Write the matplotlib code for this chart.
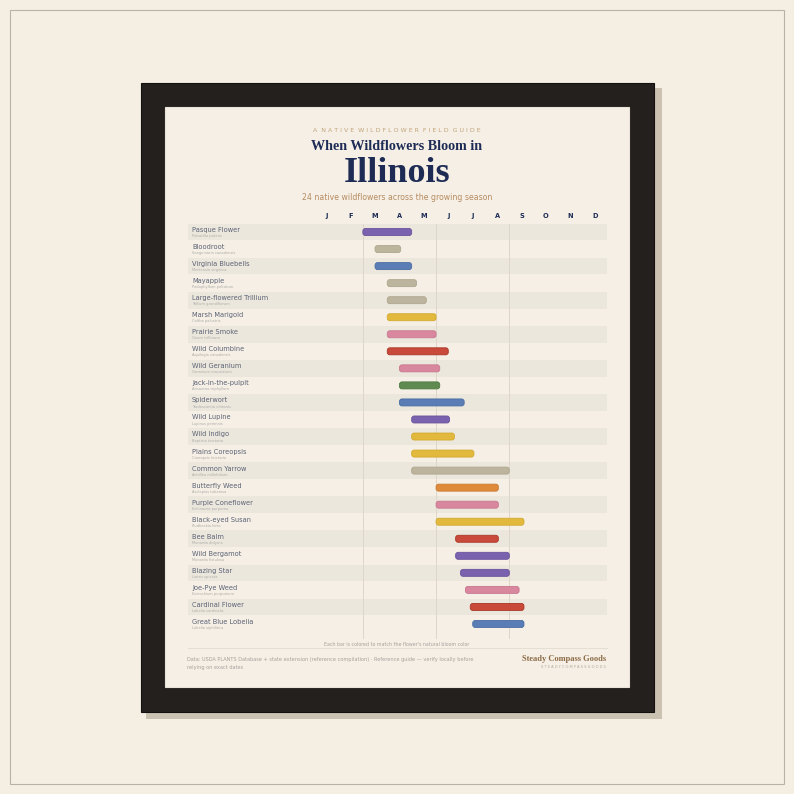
import numpy as np
import matplotlib
matplotlib.use("Agg")
import matplotlib.pyplot as plt
from matplotlib.patches import Rectangle, FancyBboxPatch

# data
months = ['J', 'F', 'M', 'A', 'M', 'J', 'J', 'A', 'S', 'O', 'N', 'D']
flowers = ['Pasque Flower', 'Bloodroot', 'Virginia Bluebells', 'Mayapple',
           'Large-flowered Trillium', 'Marsh Marigold', 'Prairie Smoke',
           'Wild Columbine', 'Wild Geranium', 'Jack-in-the-pulpit', 'Spiderwort',
           'Wild Lupine', 'Wild Indigo', 'Plains Coreopsis', 'Common Yarrow',
           'Butterfly Weed', 'Purple Coneflower', 'Black-eyed Susan', 'Bee Balm',
           'Wild Bergamot', 'Blazing Star', 'Joe-Pye Weed', 'Cardinal Flower',
           'Great Blue Lobelia']
latin = ['Pulsatilla patens', 'Sanguinaria canadensis', 'Mertensia virginica',
         'Podophyllum peltatum', 'Trillium grandiflorum', 'Caltha palustris',
         'Geum triflorum', 'Aquilegia canadensis', 'Geranium maculatum',
         'Arisaema triphyllum', 'Tradescantia ohiensis', 'Lupinus perennis',
         'Baptisia tinctoria', 'Coreopsis tinctoria', 'Achillea millefolium',
         'Asclepias tuberosa', 'Echinacea purpurea', 'Rudbeckia hirta',
         'Monarda didyma', 'Monarda fistulosa', 'Liatris spicata',
         'Eutrochium purpureum', 'Lobelia cardinalis', 'Lobelia siphilitica']
# bloom start / end in months from Jan 1
start = [2.0, 2.5, 2.5, 3.0, 3.0, 3.0, 3.0, 3.0, 3.5, 3.5, 3.5, 4.0, 4.0, 4.0,
         4.0, 5.0, 5.0, 5.0, 5.8, 5.8, 6.0, 6.2, 6.4, 6.5]
end = [4.0, 3.55, 4.0, 4.2, 4.6, 5.0, 5.0, 5.5, 5.15, 5.15, 6.15, 5.55, 5.75,
       6.55, 8.0, 7.55, 7.55, 8.6, 7.55, 8.0, 8.0, 8.4, 8.6, 8.6]
bloom = ['purple', 'tan', 'blue', 'tan', 'tan', 'yellow', 'pink', 'red', 'pink',
         'green', 'blue', 'purple', 'yellow', 'yellow', 'tan', 'orange', 'pink',
         'yellow', 'red', 'purple', 'purple', 'pink', 'red', 'blue']

palette = {'purple': ('#7a62ae', '#6a529c'), 'tan': ('#bdb49d', '#aea68e'),
           'blue': ('#5a7db6', '#4a6da3'), 'yellow': ('#e2b93c', '#d3aa2f'),
           'pink': ('#d9879f', '#c8778e'), 'red': ('#c94a3a', '#a93626'),
           'green': ('#5f8a50', '#4f7a42'), 'orange': ('#df8a3b', '#cc7a2e')}

W = 794
bgc = '#f5eee3'
paper = '#f5efe5'
navy = '#1d2b55'

fig = plt.figure(figsize=(7.94, 7.94), dpi=100, facecolor=bgc)

# frame layer in pixel coordinates
bg = fig.add_axes([0, 0, 1, 1])
bg.set_xlim(0, W)
bg.set_ylim(W, 0)
bg.axis('off')
bg.add_patch(Rectangle((10, 10), 774, 774, fill=False, ec='#b9b1a6', lw=0.8))
bg.add_patch(Rectangle((146, 88), 516, 631, fc='#cbc2b1', ec='none'))
bg.add_patch(Rectangle((141, 83), 513, 629, fc='#23201d', ec='#121110', lw=0.8))
bg.add_patch(Rectangle((165, 107), 464, 580, fc=paper, ec='#e9e2d6', lw=0.8))

bg.text(397, 131, '  '.join(' '.join(w) for w in 'A NATIVE WILDFLOWER FIELD GUIDE'.split()),
        ha='center', va='center', fontsize=4.5, color='#c2a47c')
bg.text(397, 146, 'When Wildflowers Bloom in', ha='center', va='center',
        fontsize=10.2, color=navy, family='Liberation Serif', fontweight='bold')
bg.text(397, 173, 'Illinois', ha='center', va='center', fontsize=26,
        color=navy, family='Liberation Serif', fontweight='bold')
bg.text(397, 197, '24 native wildflowers across the growing season',
        ha='center', va='center', fontsize=5.6, color='#b68c62')

# chart
x0, x1 = 188, 607
y_top, y_bot = 223.5, 632.5
px_m = (x1 - 314) / 12.0
px_r = (y_bot - y_top) / len(flowers)
ax = fig.add_axes([x0 / W, 1 - y_bot / W, (x1 - x0) / W, (y_bot - y_top) / W])
ax.set_xlim((x0 - 314) / px_m, 12)
ax.set_ylim(len(flowers) - 0.5, -0.5)
ax.axis('off')

for i in range(len(flowers)):
    if i % 2 == 0:
        ax.axhspan(i - 0.49, i + 0.49, color='#ece7dd', lw=0, zorder=0)

for m in [2, 5, 8]:
    ax.plot([m, m], [-0.5, len(flowers) - 0.2], color='#ddd6c9', lw=0.7,
            zorder=1, clip_on=False)

for i, mth in enumerate(months):
    ax.text(i + 0.5, -0.92, mth, ha='center', va='center', fontsize=4.8,
            color=navy, fontweight='semibold')

lx = (192 - 314) / px_m
r = 2.6
for i, name in enumerate(flowers):
    ax.text(lx, i - 0.12, name, ha='left', va='center', fontsize=4.8,
            color='#5b6275')
    ax.text(lx, i + 0.24, latin[i], ha='left', va='center', fontsize=2.6,
            color='#aeada9')
    fc, ec = palette[bloom[i]]
    h = 7.0 / px_r
    bar = FancyBboxPatch((start[i], i - h / 2), end[i] - start[i], h,
                         boxstyle='round,pad=0,rounding_size=%f' % (r / px_m),
                         mutation_aspect=px_m / px_r, fc=fc, ec=ec, lw=0.6,
                         zorder=3)
    ax.add_patch(bar)

# footer
bg.text(397, 644, "Each bar is colored to match the flower's natural bloom color",
        ha='center', va='center', fontsize=3.4, color='#a5a39e')
bg.plot([188, 607], [648, 648], color='#e2dbcf', lw=0.6)
bg.text(187, 660, 'Data: USDA PLANTS Database + state extension (reference compilation) '
        '\u00b7 Reference guide \u2014 verify locally before', ha='left', va='center',
        fontsize=3.6, color='#a5a39e')
bg.text(187, 667, 'relying on exact dates', ha='left', va='center', fontsize=3.6,
        color='#a5a39e')
bg.text(606, 659, 'Steady Compass Goods', ha='right', va='center', fontsize=6,
        color='#8c6b46', family='Liberation Serif', fontweight='bold')
bg.text(606, 667, ' '.join('STEADYCOMPASSGOODS'), ha='right', va='center',
        fontsize=2.6, color='#b6aa98')

fig.savefig('out.png', dpi=100, facecolor=bgc)
